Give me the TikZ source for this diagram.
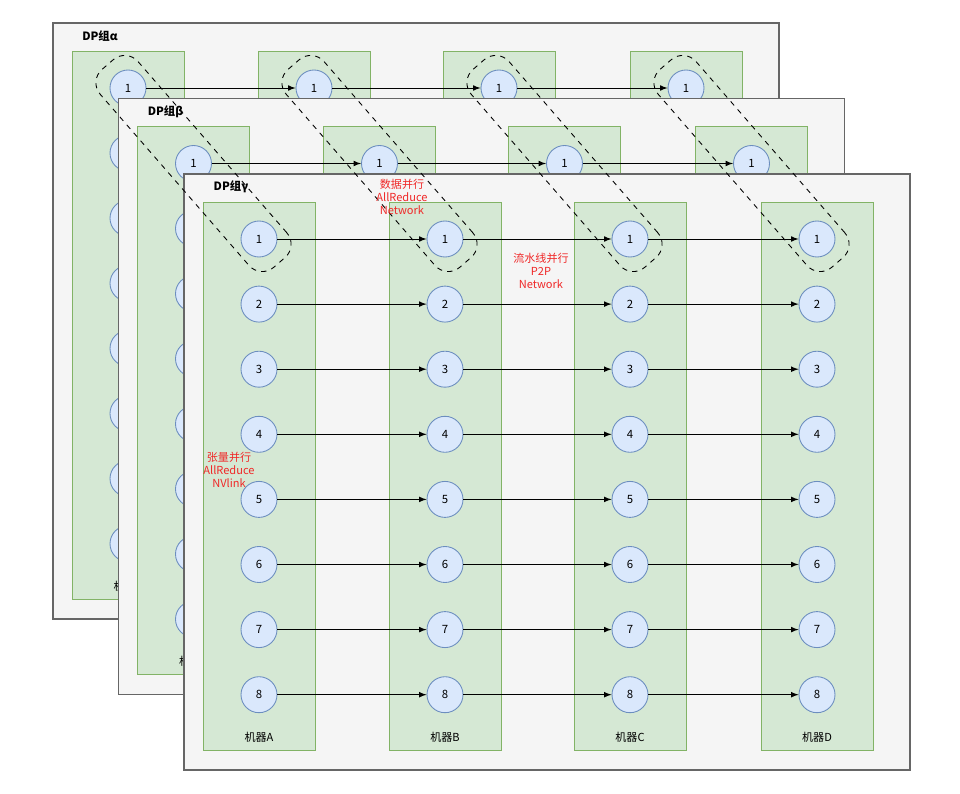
\documentclass[tikz,border=0pt]{standalone}
\usepackage{fontspec}
\usetikzlibrary{calc}
\setmainfont{Noto Sans CJK SC}
\begin{document}
\begin{tikzpicture}[x=0.02cm,y=-0.02cm,
  frame/.style={draw=black!60,fill=black!4,line width=0.6pt},
  mach/.style={fill={rgb,255:red,213;green,232;blue,212},draw={rgb,255:red,130;green,179;blue,102},line width=0.5pt},
  gpu/.style={circle,minimum size=36*0.02cm,inner sep=0pt,fill={rgb,255:red,218;green,232;blue,252},draw={rgb,255:red,108;green,142;blue,191},line width=0.5pt,font=\fontsize{6.5pt}{7pt}\selectfont},
  lbl/.style={font=\fontsize{6.3pt}{7pt}\selectfont},
  red/.style={text={rgb,255:red,240;green,40;blue,40},font=\fontsize{6.3pt}{7.2pt}\selectfont,align=center},
  arr/.style={-latex,line width=0.5pt},
  grp/.style={draw,dashed,rounded corners=10pt,line width=0.5pt,minimum width=262*0.02cm,minimum height=50*0.02cm,rotate=-49}]
\useasboundingbox (0,0) rectangle (960,794);
\foreach \L/\ox/\oy/\g in {a/-131/-151/α,b/-65.5/-75.5/β,c/0/0/γ}{
\begin{scope}[shift={(\ox,\oy)}]
  \draw[frame] (184,174) rectangle (910,770);
  \node[lbl,font=\bfseries\fontsize{6.5pt}{7pt}\selectfont] at (231,187) {DP组\g};
  \foreach \c/\x/\m in {1/259/A,2/445/B,3/630/C,4/817/D}{
    \draw[mach] (\x-56,202) rectangle (\x+56,750);
    \node[lbl] at (\x,737) {机器\m};
    \foreach \r in {1,...,8}{
      \node[gpu] (\L\c\r) at (\x,239+65.1*\r-65.1) {\r};
    }
  }
  \foreach \r in {1,...,8}{
    \draw[arr] (\L1\r) -- (\L2\r);
    \draw[arr] (\L2\r) -- (\L3\r);
    \draw[arr] (\L3\r) -- (\L4\r);
  }
\end{scope}
}
\foreach \c in {1,2,3,4}{
  \node[grp] (g\c) at ($(a\c1)!0.5!(c\c1)$) {};
}
\node[red] (t1) at (402,197) {数据并行\\AllReduce\\Network};
\node[red] (t2) at (541,271) {流水线并行\\P2P\\Network};
\node[red] (t3) at (229,470) {张量并行\\AllReduce\\NVlink};
\end{tikzpicture}
\end{document}
